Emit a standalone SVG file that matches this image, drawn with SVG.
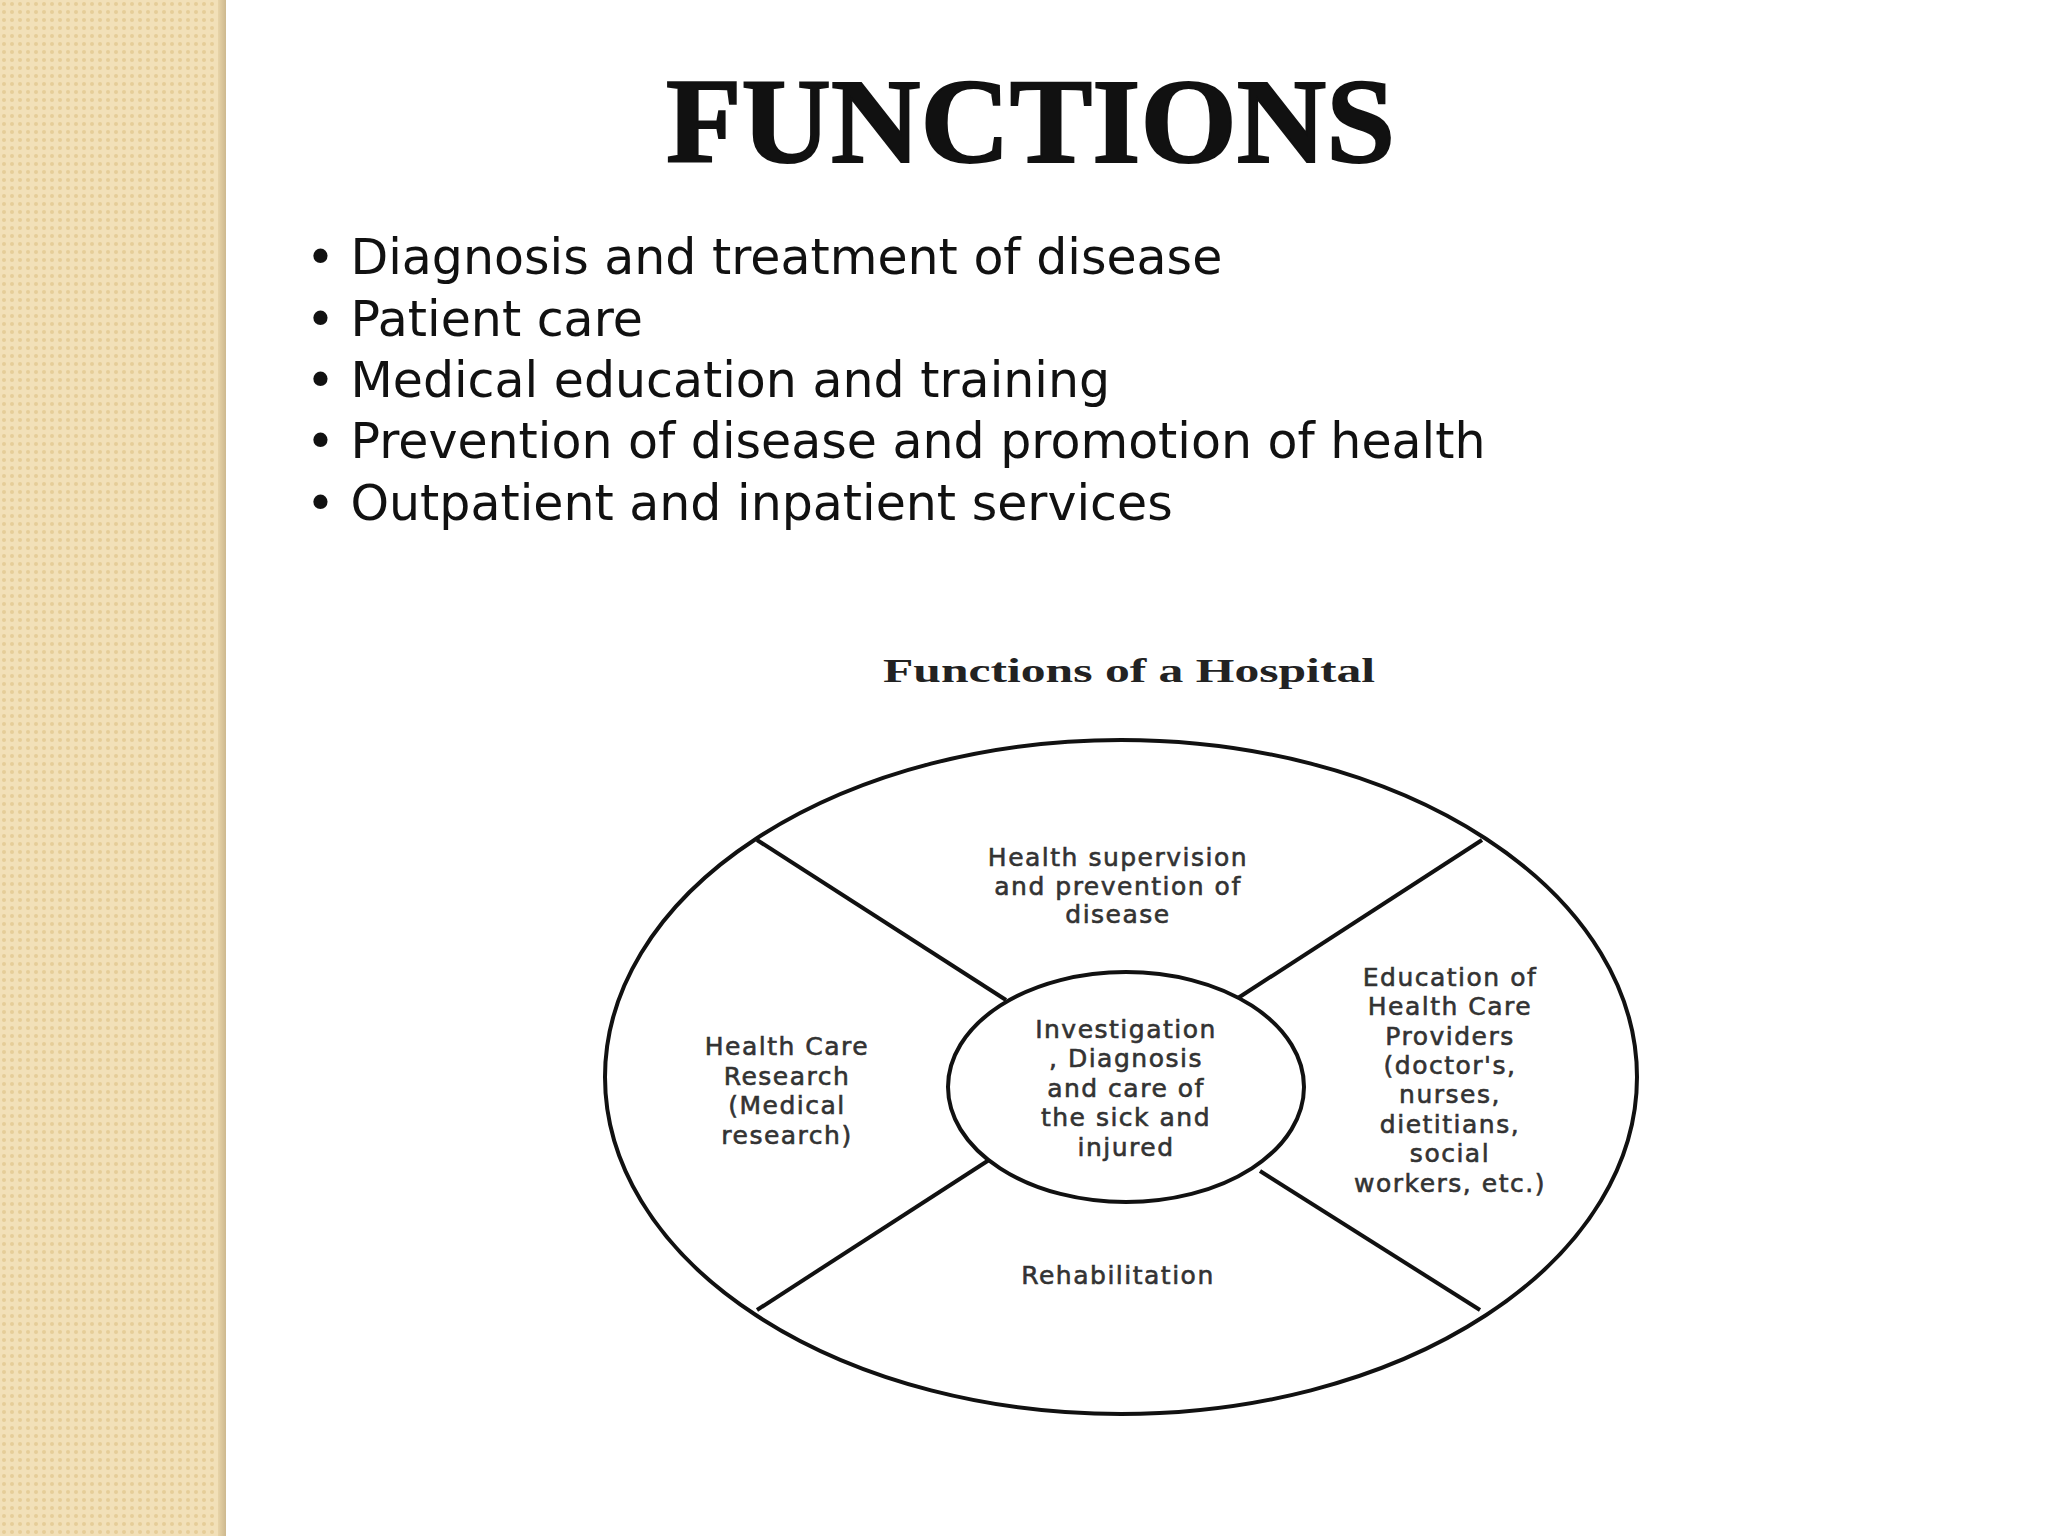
<svg xmlns="http://www.w3.org/2000/svg" width="2048" height="1536" viewBox="0 0 2048 1536">
<defs>
<pattern id="dots" width="8" height="8" patternUnits="userSpaceOnUse">
<rect width="8" height="8" fill="#F2E0B8"/>
<circle cx="4" cy="4" r="2" fill="#E6CD98"/>
</pattern>
<linearGradient id="edge" x1="0" x2="1"><stop offset="0" stop-color="#E8D4A8"/><stop offset="1" stop-color="#CDB88E"/></linearGradient>
</defs>
<style>
.b{font-family:"DejaVu Sans",Verdana,sans-serif;font-size:49px;fill:#111}
.d{font-family:"DejaVu Sans",Verdana,sans-serif;font-size:25px;fill:#333;text-anchor:middle;letter-spacing:1.5px;stroke:#333;stroke-width:0.6}
.ln{stroke:#111;stroke-width:4;fill:none}
</style>
<rect width="2048" height="1536" fill="#fff"/>
<rect width="222" height="1536" fill="url(#dots)"/>
<rect x="218" width="8" height="1536" fill="url(#edge)"/>
<g id="title">
<text x="666" y="162" textLength="729" lengthAdjust="spacingAndGlyphs" font-family="'Liberation Serif',serif" font-weight="bold" font-size="120" fill="#111" stroke="#111" stroke-width="2">FUNCTIONS</text>
</g>
<g id="bullets">
<text class="b" x="306" y="274">• Diagnosis and treatment of disease</text>
<text class="b" x="306" y="336">• Patient care</text>
<text class="b" x="306" y="397">• Medical education and training</text>
<text class="b" x="306" y="458">• Prevention of disease and promotion of health</text>
<text class="b" x="306" y="520">• Outpatient and inpatient services</text>
</g>
<text x="883" y="682" textLength="492" lengthAdjust="spacingAndGlyphs" font-family="'Liberation Serif',serif" font-weight="bold" font-size="34" fill="#222">Functions of a Hospital</text>
<g id="outer"><ellipse class="ln" cx="1121" cy="1077" rx="516" ry="337"/></g>
<g id="connectors">
<line class="ln" x1="757" y1="840" x2="1006" y2="1000"/>
<line class="ln" x1="1482" y1="840" x2="1238" y2="998"/>
<line class="ln" x1="757" y1="1310" x2="989" y2="1160"/>
<line class="ln" x1="1480" y1="1310" x2="1260" y2="1171"/>
</g>
<g id="center">
<ellipse class="ln" cx="1126" cy="1087" rx="178" ry="115"/>
<text class="d" x="1126" y="1038">Investigation</text>
<text class="d" x="1126" y="1067">, Diagnosis</text>
<text class="d" x="1126" y="1097">and care of</text>
<text class="d" x="1126" y="1126">the sick and</text>
<text class="d" x="1126" y="1156">injured</text>
</g>
<g id="top">
<text class="d" x="1118" y="866">Health supervision</text>
<text class="d" x="1118" y="895">and prevention of</text>
<text class="d" x="1118" y="923">disease</text>
</g>
<g id="left">
<text class="d" x="787" y="1055">Health Care</text>
<text class="d" x="787" y="1085">Research</text>
<text class="d" x="787" y="1114">(Medical</text>
<text class="d" x="787" y="1144">research)</text>
</g>
<g id="right">
<text class="d" x="1450" y="986">Education of</text>
<text class="d" x="1450" y="1015">Health Care</text>
<text class="d" x="1450" y="1045">Providers</text>
<text class="d" x="1450" y="1074">(doctor's,</text>
<text class="d" x="1450" y="1103">nurses,</text>
<text class="d" x="1450" y="1133">dietitians,</text>
<text class="d" x="1450" y="1162">social</text>
<text class="d" x="1450" y="1192">workers, etc.)</text>
</g>
<g id="bottom">
<text class="d" x="1118" y="1284">Rehabilitation</text>
</g>
</svg>
